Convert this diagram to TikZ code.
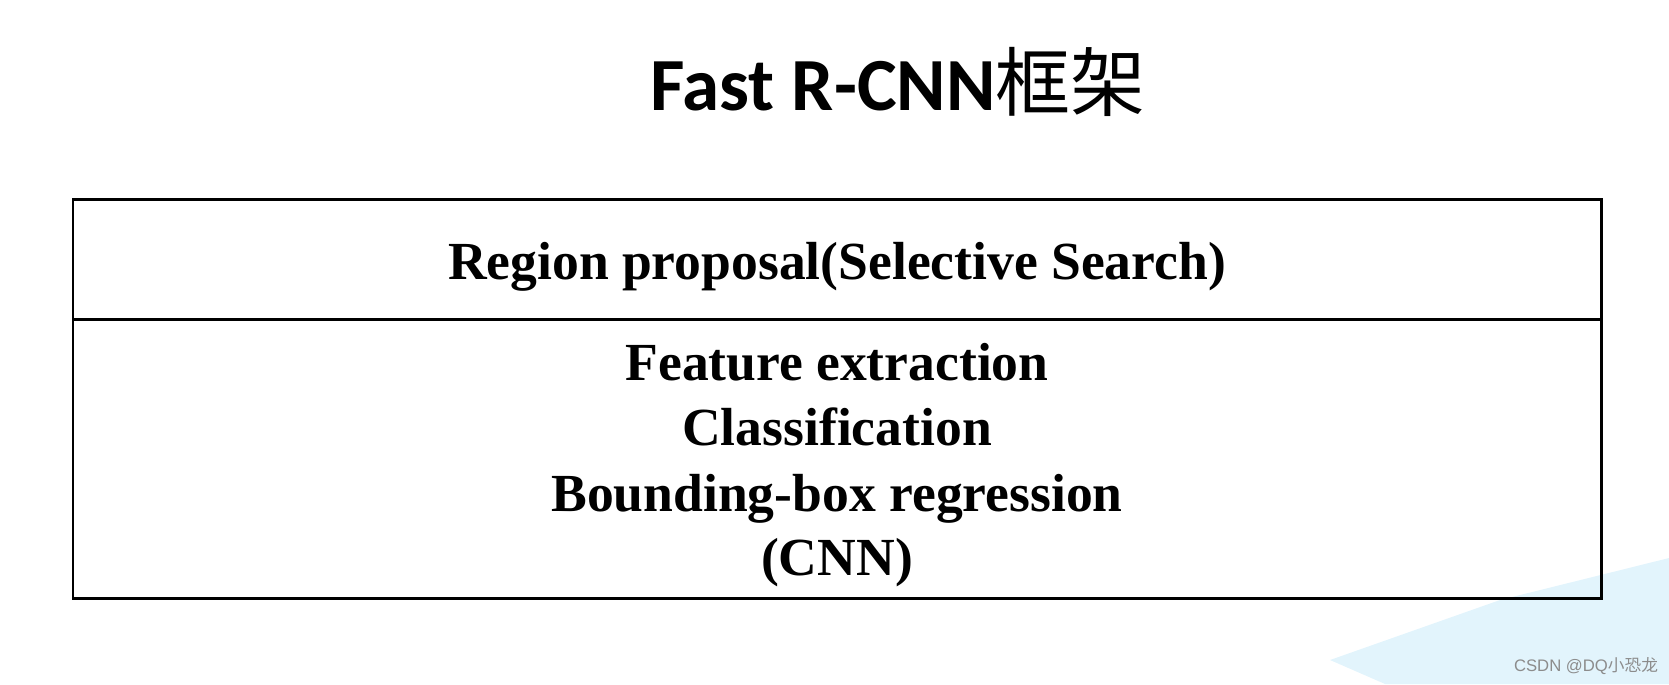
\documentclass[tikz,border=0pt]{standalone}
\usepackage{fontspec}
\usepackage{tikz}
\setmainfont{Liberation Serif}
\newfontfamily\titlefont{Carlito}
\newfontfamily\cjkfont{Noto Sans CJK SC}
\newfontfamily\markfont{Liberation Sans}
\definecolor{ciel}{HTML}{E2F4FC}
\definecolor{gris}{HTML}{8C8C8C}
\tikzset{cadre/.style={
    line width=1.7pt}}
\tikzset{texte/.style={
    font=\bfseries\fontsize{30.5}{36}\selectfont,
    anchor=base}}

\begin{document}
\begin{tikzpicture}[x=0.02cm, y=-0.02cm]

\useasboundingbox (0,0) rectangle (1669,684);

\fill[ciel] (1669,558) -- (1500,600) -- (1330,660) -- (1385,684) -- (1669,684) -- cycle;

\coordinate (NW) at (73,199);
\coordinate (SE) at (1601,598);
\coordinate (W) at (73,319);
\coordinate (E) at (1601,319);

\node[anchor=base,
  font=\fontsize{42.7}{48}\selectfont] (titre) at (898,110)
  {{\titlefont\bfseries Fast R-CNN}{\cjkfont 框架}};

\draw[cadre] (NW) rectangle (SE);
\draw[cadre] (W) -- (E);

\node[texte] (region) at (837,279) {Region proposal(Selective Search)};

\node[texte] (feature) at (837,380) {Feature extraction};
\node[texte] (classif) at (837,445) {Classification};
\node[texte] (bbox) at (837,511) {Bounding-box regression};
\node[texte] (cnn) at (837,575) {(CNN)};

\node[anchor=base,
  text=gris,
  font=\markfont\fontsize{9.5}{11}\selectfont] (marque) at (1586,671)
  {CSDN @DQ{\cjkfont 小恐龙}};

\end{tikzpicture}
\end{document}
